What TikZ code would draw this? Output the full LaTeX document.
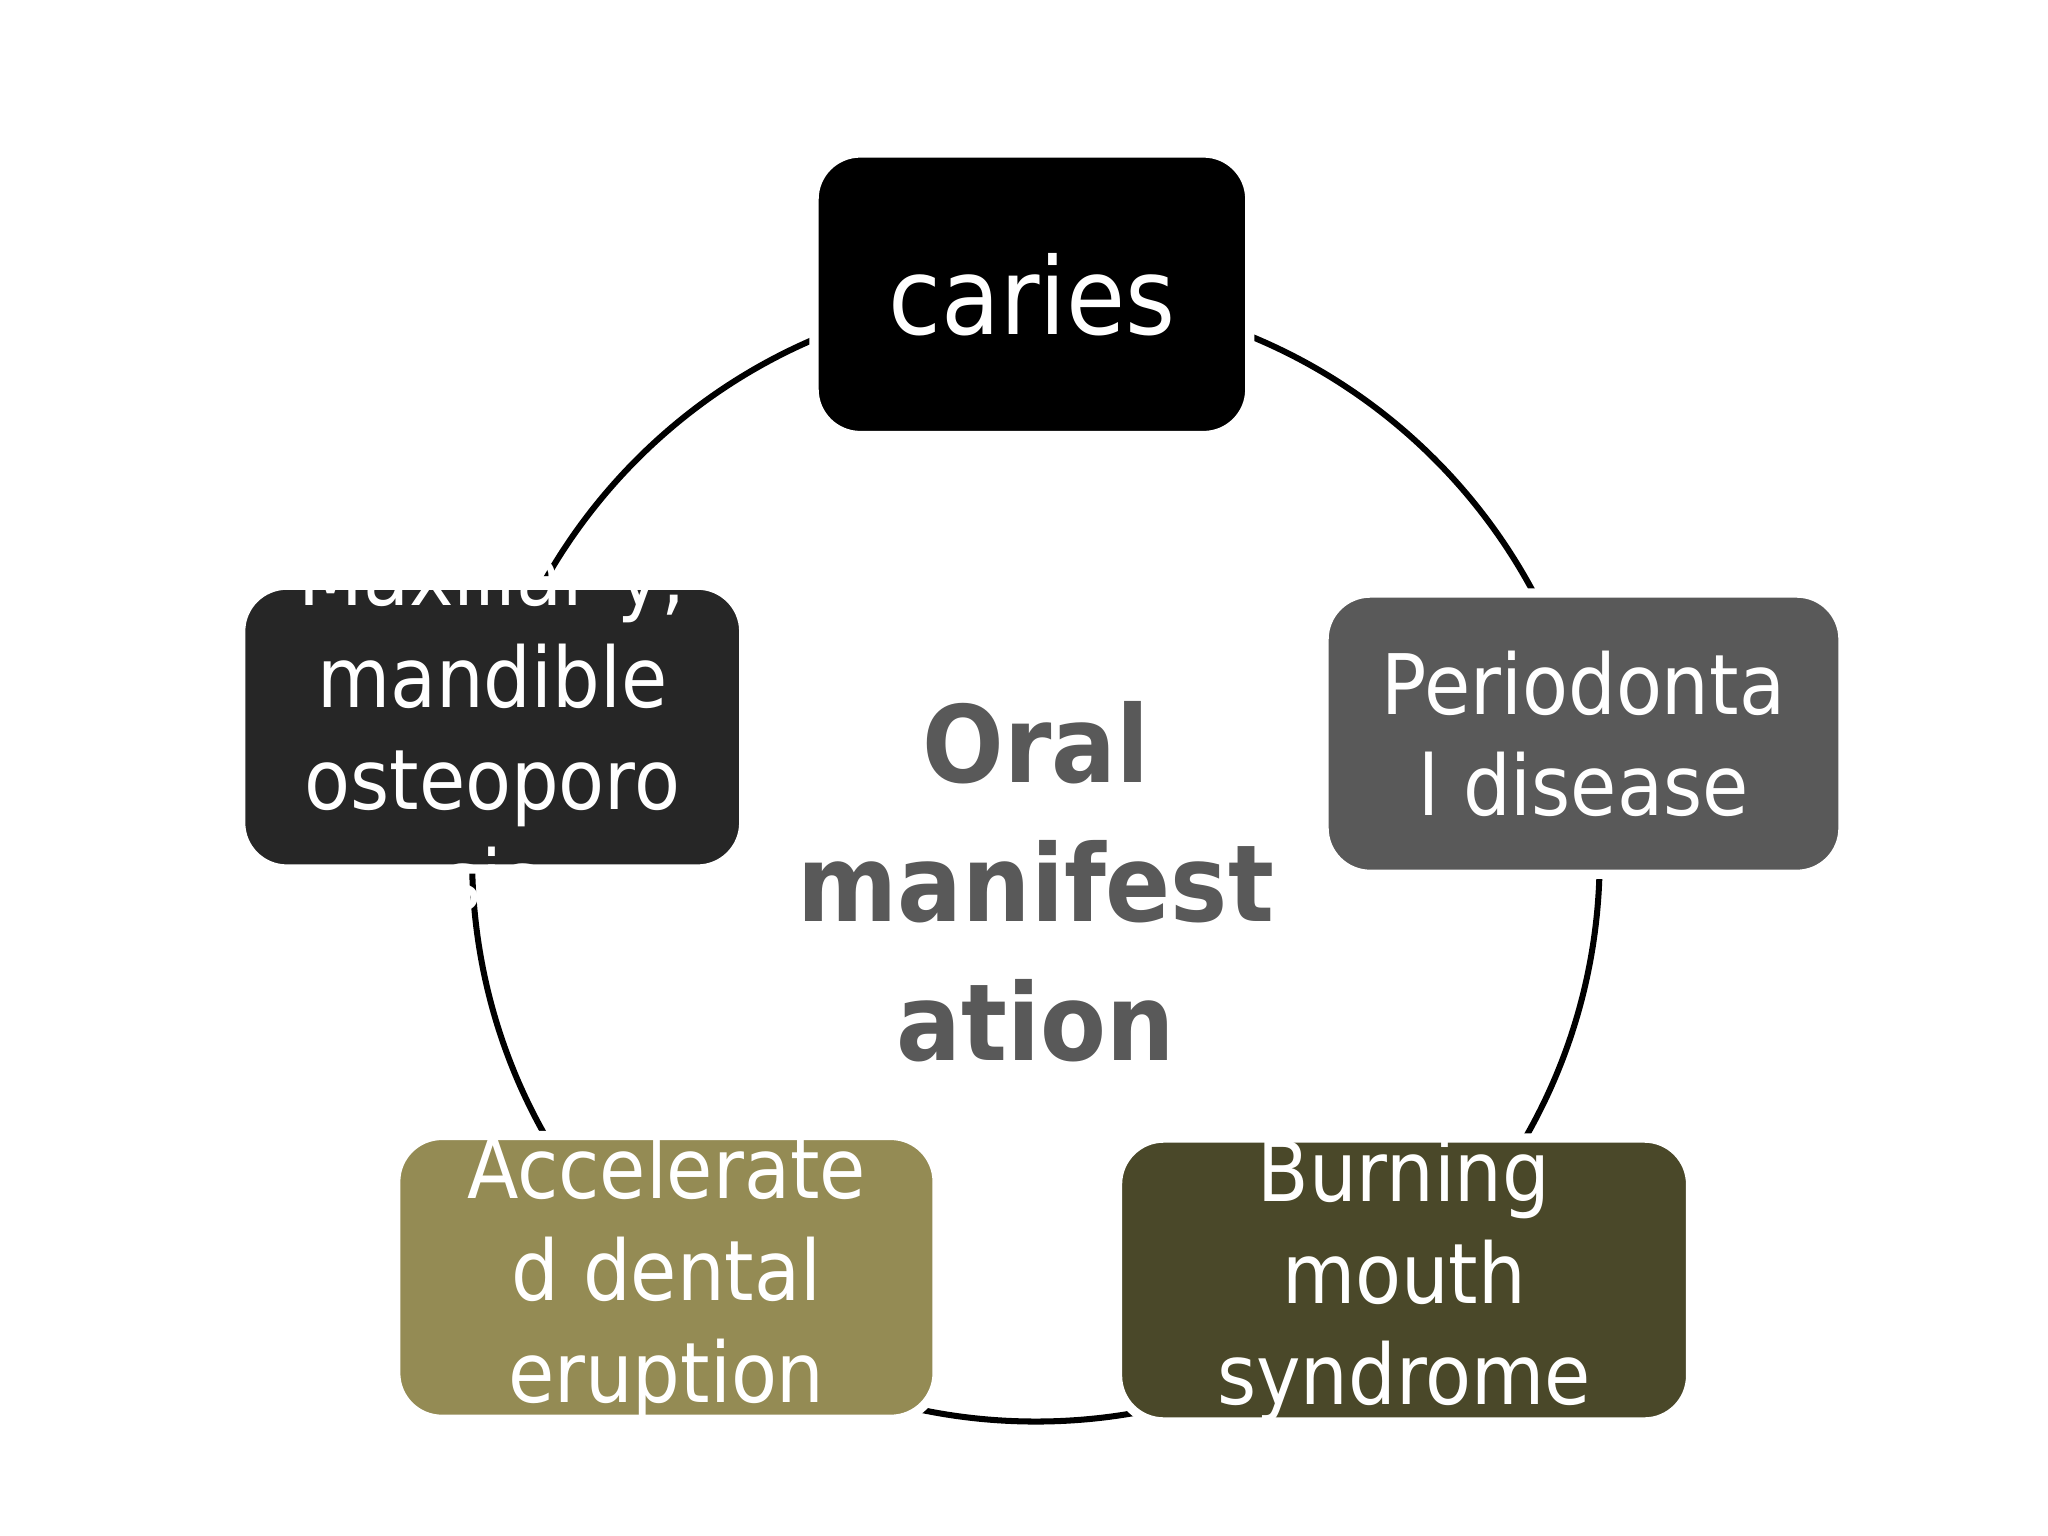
\documentclass[tikz,border=0pt]{standalone}
\usepackage{fontspec}
\setmainfont{DejaVu Sans Condensed}
\usetikzlibrary{positioning}
\definecolor{boxgray}{HTML}{595959}
\definecolor{boxdark}{HTML}{262626}
\definecolor{boxolive}{HTML}{4A4829}
\definecolor{boxkhaki}{HTML}{948B54}
\tikzset{
	cyclebox/.style={rounded corners=0.35cm, draw=white, line width=2pt, inner sep=0pt},
	boxtext/.style={text=white, align=center, inner sep=0pt,
		font=\fontsize{18}{21.9}\selectfont},
}

\begin{document}
\begin{tikzpicture}[x=0.01cm,y=-0.01cm]
	\useasboundingbox (0,0) rectangle (1552,1164);
	% ring behind the boxes
	\draw[line width=1.3pt] (785,650) circle(4.27cm);
	\node[cyclebox, fill=black, minimum width=3.30cm, minimum height=2.14cm] (caries) at (782,223) {};
	\node[cyclebox, fill=boxgray, minimum width=3.93cm, minimum height=2.13cm] (perio) at (1200,556) {};
	\node[cyclebox, fill=boxolive, minimum width=4.34cm, minimum height=2.15cm] (burning) at (1064,970) {};
	\node[cyclebox, fill=boxkhaki, minimum width=4.10cm, minimum height=2.15cm] (accel) at (505,968) {};
	\node[cyclebox, fill=boxdark, minimum width=3.81cm, minimum height=2.15cm] (maxil) at (373,551) {};
	% texts
	\node[boxtext, font=\fontsize{23}{26}\selectfont] at (caries) {caries};
	\node[boxtext] at (perio) {Periodonta\\l disease};
	\node[boxtext] at (burning) {Burning\\mouth\\syndrome};
	\node[boxtext] at (accel) {Accelerate\\d dental\\eruption};
	\node[boxtext] at (maxil) {Maxillar y,\\mandible\\osteoporo\\sis};
	\node[text=boxgray, align=center, font=\fontsize{23}{30}\bfseries\selectfont] (oral) at (785,668) {Oral\\manifest\\ation};
\end{tikzpicture}
\end{document}
